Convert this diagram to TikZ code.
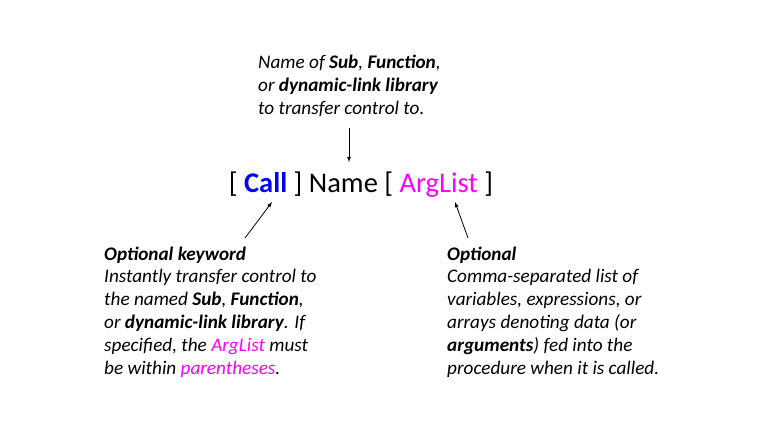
\documentclass[tikz,border=0pt]{standalone}
\usepackage{fontspec}
\setmainfont{Carlito}
\definecolor{kwblue}{RGB}{0,0,255}
\definecolor{argmag}{RGB}{255,0,255}
\begin{document}
\begin{tikzpicture}[x=1pt,y=1pt,
  note/.style={anchor=base west,inner sep=0pt,align=left,font=\fontsize{19.2}{22.8}\selectfont\itshape},
  arr/.style={-latex,line width=0.8pt}]
\useasboundingbox (0,0) rectangle (768,432);
\node[note] (top) at (258,{432-114}) {Name of \textbf{Sub}, \textbf{Function},\\or \textbf{dynamic-link library}\\to transfer control to.};
\node[anchor=base,inner sep=0pt,font=\fontsize{28.5}{32}\selectfont] (main) at (361,{432-192})
  {[ \textcolor{kwblue}{\textbf{Call}} ] Name [ \textcolor{argmag}{ArgList} ]};
\node[note] (left) at (104,{432-374}) {\textbf{Optional keyword}\\Instantly transfer control to\\the named \textbf{Sub}, \textbf{Function},\\or \textbf{dynamic-link library}. If\\specified, the \textcolor{argmag}{ArgList} must\\be within \textcolor{argmag}{parentheses}.};
\node[note] (right) at (447,{432-374}) {\textbf{Optional}\\Comma-separated list of\\variables, expressions, or\\arrays denoting data (or\\\textbf{arguments}) fed into the\\procedure when it is called.};
\coordinate (a1) at (349,{432-128});
\coordinate (a1e) at (349,{432-162});
\coordinate (a2) at (245,{432-238});
\coordinate (a2e) at (272,{432-202});
\coordinate (a3) at (468,{432-238});
\coordinate (a3e) at (455,{432-202});
\draw[arr] (a1) -- (a1e);
\draw[arr] (a2) -- (a2e);
\draw[arr] (a3) -- (a3e);
\end{tikzpicture}
\end{document}
